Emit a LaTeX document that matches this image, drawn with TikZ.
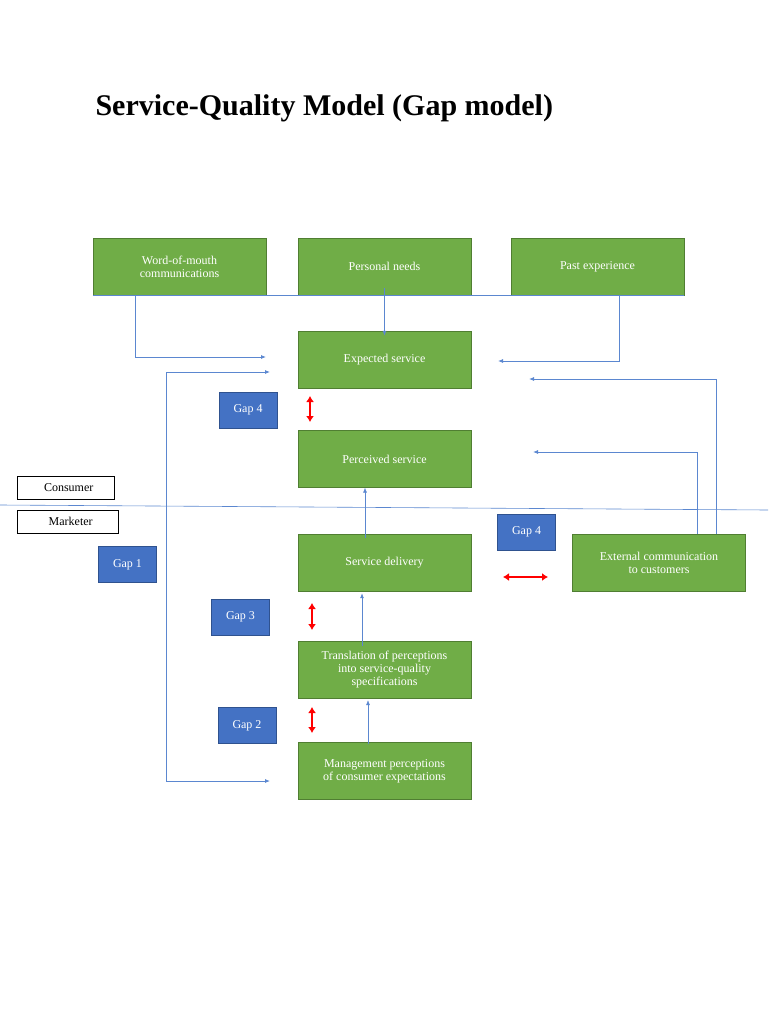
\documentclass[tikz,border=0pt]{standalone}
\usepackage{fontspec}
\setmainfont{Liberation Serif}
\usetikzlibrary{arrows.meta}
\definecolor{boxgreen}{HTML}{70AD47}
\definecolor{boxedge}{HTML}{507E32}
\definecolor{gapblue}{HTML}{4472C4}
\definecolor{gapedge}{HTML}{2F528F}
\definecolor{linkblue}{HTML}{5B87D0}
\begin{document}
\begin{tikzpicture}[x=1pt,y=-1pt]
\tikzset{
  stage/.style={draw=boxedge, fill=boxgreen, text=white, font=\fontsize{12}{13}\selectfont,
    minimum width=173pt, minimum height=57pt, align=center, inner sep=2pt},
  gap/.style={draw=gapedge, fill=gapblue, text=white, font=\fontsize{12}{13}\selectfont,
    minimum width=58pt, minimum height=36pt, inner sep=1pt},
  side/.style={draw=black, fill=white, font=\fontsize{12}{13}\selectfont,
    minimum height=23pt, anchor=west, inner sep=1pt},
  link/.style={draw=linkblue, line width=0.8pt, -{Latex[length=5pt,width=4pt]}},
  gapmark/.style={draw=red, line width=2.5pt, {Latex[length=6pt,width=8pt]}-{Latex[length=6pt,width=8pt]}}
}
\useasboundingbox (0,0) rectangle (768,1024);

% Title
\node[anchor=west, font=\fontsize{30}{34}\selectfont\bfseries] (title) at (92,108) {Service-Quality Model (Gap model)};

% Nodes for the upper row
\node[stage] (mouth) at (179.5,266.5) {Word-of-mouth\\communications};
\node[stage] (needs) at (384.5,266.5) {Personal needs};
\node[stage] (past) at (597.5,266.5) {Past experience};

% Nodes for the centre column
\node[stage] (expected) at (384.5,359.5) {Expected service};
\node[stage] (perceived) at (384.5,459) {Perceived service};
\node[stage] (delivery) at (384.5,562.5) {Service delivery};
\node[stage] (spec) at (384.5,669.5) {Translation of perceptions\\into service-quality\\specifications};
\node[stage] (mgmt) at (384.5,771) {Management perceptions\\of consumer expectations};
\node[stage] (external) at (659,562.5) {External communication\\to customers};

% Gap labels
\node[gap] (gapA) at (248,410) {Gap 4};
\node[gap] (gapB) at (526.5,532) {Gap 4};
\node[gap] (gapC) at (127.5,564.5) {Gap 1};
\node[gap] (gapD) at (240.5,617) {Gap 3};
\node[gap] (gapE) at (247,725.5) {Gap 2};

% Consumer / marketer split
\node[side, minimum width=97pt] (consumer) at (17,487.5) {\hspace{6pt}Consumer\hfill};
\node[side, minimum width=101pt] (marketer) at (17,521.5) {\hspace{6pt}Marketer\hfill};
\coordinate (splitL) at (0,505);
\coordinate (splitR) at (768,510);
\draw[linkblue, line width=0.6pt] (splitL) -- (splitR);

% Lines into expected service
\draw[linkblue, line width=0.8pt] (mouth.south west) -- (past.south east);
\coordinate (mouthOut) at (135,295);
\coordinate (pastOut) at (619,295);
\coordinate (mouthIn) at (266,357);
\coordinate (pastIn) at (498,361);
\draw[link] (mouthOut) |- (mouthIn);
\draw[link] ([yshift=7pt]needs.south) -- ([yshift=-5pt]expected.north);
\draw[link] (pastOut) |- (pastIn);

% Gap 1 loop
\coordinate (loopTop) at (270,372);
\coordinate (loopBot) at (270,781);
\coordinate (loopL) at (166,781);
\draw[link] (loopL) -- (loopBot);
\draw[link] (loopL) |- (loopTop);

% Lines from external communication
\coordinate (extOutA) at (716,534);
\coordinate (extOutB) at (697,534);
\coordinate (extA) at (529,379);
\coordinate (extB) at (533,452);
\draw[link] (extOutA) |- (extA);
\draw[link] (extOutB) |- (extB);

% Lines up the centre column
\draw[link, line width=0.5pt] ([xshift=-19.5pt,yshift=-4pt]delivery.north) -- ([xshift=-19.5pt]perceived.south);
\draw[link] ([xshift=-22.5pt,yshift=-5pt]spec.north) -- ([xshift=-22.5pt,yshift=-2pt]delivery.south);
\draw[link, line width=0.5pt] ([xshift=-16.5pt,yshift=-2pt]mgmt.north) -- ([xshift=-16.5pt,yshift=-2pt]spec.south);

% Red gap marks
\coordinate (redA1) at (310,396); \coordinate (redA2) at (310,422);
\coordinate (redB1) at (312,603); \coordinate (redB2) at (312,630);
\coordinate (redC1) at (312,707); \coordinate (redC2) at (312,733);
\coordinate (redD1) at (503,577); \coordinate (redD2) at (548,577);
\draw[gapmark] (redA1) -- (redA2);
\draw[gapmark] (redB1) -- (redB2);
\draw[gapmark] (redC1) -- (redC2);
\draw[gapmark] (redD1) -- (redD2);
\end{tikzpicture}
\end{document}
